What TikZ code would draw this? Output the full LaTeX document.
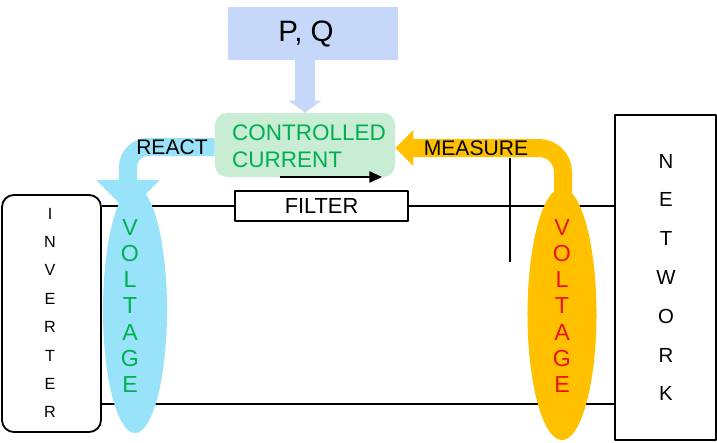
\documentclass[tikz,border=0pt]{standalone}
\usepackage{fontspec}
\setmainfont{Liberation Sans}
\usetikzlibrary{shapes.geometric,arrows.meta}
\definecolor{pqblue}{RGB}{198,216,250}
\definecolor{ctrlgreen}{RGB}{200,236,212}
\definecolor{skyband}{RGB}{152,226,250}
\definecolor{amber}{RGB}{255,192,0}
\definecolor{txtgreen}{RGB}{0,176,80}
\definecolor{txtred}{RGB}{235,20,20}

\begin{document}
\begin{tikzpicture}[x=0.025cm, y=-0.025cm, line join=round,
  box/.style={draw, line width=1.3pt, fill=white},
  wire/.style={line width=1.2pt},
  fatline/.style={line width=0.45cm, rounded corners=5mm},
  bubble/.style={ellipse, inner sep=0pt}]
  \useasboundingbox (0,0) rectangle (717,442);
  % set-point and controller
  \node[fill=pqblue, minimum width=4.25cm, minimum height=1.325cm] (pq) at (313,33.5) {};
  \node[font=\fontsize{21}{24}\selectfont] (pqtxt) at (306,34) {P, Q};
  \node[fill=ctrlgreen, rounded corners=3mm, minimum width=4.5cm, minimum height=1.6cm] (ctrl) at (305,145) {};
  \node[align=left, text=txtgreen, font=\fontsize{16}{19}\selectfont] (ctrltxt) at (309,146) {CONTROLLED\\CURRENT};
  \draw[pqblue, line width=0.5cm, -{Triangle[width=0.8cm,length=0.3cm]}] (ctrl.north |- pq.south) -- (ctrl.north);
  \coordinate (cur0) at (280,177);
  \coordinate (cur1) at (382,177);
  \draw[line width=1.3pt, -{Triangle[width=8pt,length=9pt]}] (cur0) -- (cur1);
  % circuit
  \node[box, minimum width=4.325cm, minimum height=0.75cm, font=\fontsize{15.5}{18}\selectfont] (filt) at (321.5,206) {FILTER};
  \node[box, rounded corners=3mm, minimum width=2.475cm, minimum height=5.925cm] (inv) at (51.5,313.5) {};
  \node[align=center, font=\fontsize{11.5}{20.2}\selectfont] (invtxt) at (50,313) {I\\N\\V\\E\\R\\T\\E\\R};
  \node[box, minimum width=2.525cm, minimum height=8.125cm] (net) at (665.5,277.5) {};
  \node[align=center, font=\fontsize{14.5}{27.6}\selectfont] (nettxt) at (666,277.5) {N\\E\\T\\W\\O\\R\\K};
  \coordinate (lo) at (300,404);
  \draw[wire] (inv.east |- filt.west) -- (filt.west);
  \draw[wire] (filt.east) -- (net.west |- filt.east);
  \draw[wire] (inv.east |- lo) -- (net.west |- lo);
  \coordinate (m0) at (510,158);
  \coordinate (m1) at (510,262);
  \draw[wire] (m0) -- (m1);
  % feedback arrows
  \coordinate (rk) at (128,212);
  \coordinate (cw) at ([yshift=-0.05cm]ctrl.west);
  \draw[skyband, fatline, -{Triangle[width=1.55cm,length=0.8cm]}] (cw) -| (rk);
  \coordinate (vm) at (563,205);
  \coordinate (ce) at ([yshift=-0.075cm]ctrl.east);
  \draw[amber, fatline, rounded corners=6mm, -{Triangle[width=0.875cm,length=0.45cm]}] (vm) |- (ce);
  \node[font=\fontsize{15}{18}\selectfont] (react) at (172,147) {REACT};
  \node[font=\fontsize{15}{18}\selectfont] (meas) at (476,148) {MEASURE};
  % voltage bubbles
  \node[bubble, fill=skyband, minimum width=1.6cm, minimum height=6.15cm] (vinv) at (135,310) {};
  \node[align=center, text=txtgreen, font=\fontsize{16.5}{18.6}\selectfont] (vinvtxt) at (130,306) {V\\O\\L\\T\\A\\G\\E};
  \node[bubble, fill=amber, minimum width=1.725cm, minimum height=6.3cm] (vnet) at (562,314) {};
  \node[align=center, text=txtred, font=\fontsize{16.5}{18.6}\selectfont] (vnettxt) at (562,306) {V\\O\\L\\T\\A\\G\\E};
\end{tikzpicture}
\end{document}
